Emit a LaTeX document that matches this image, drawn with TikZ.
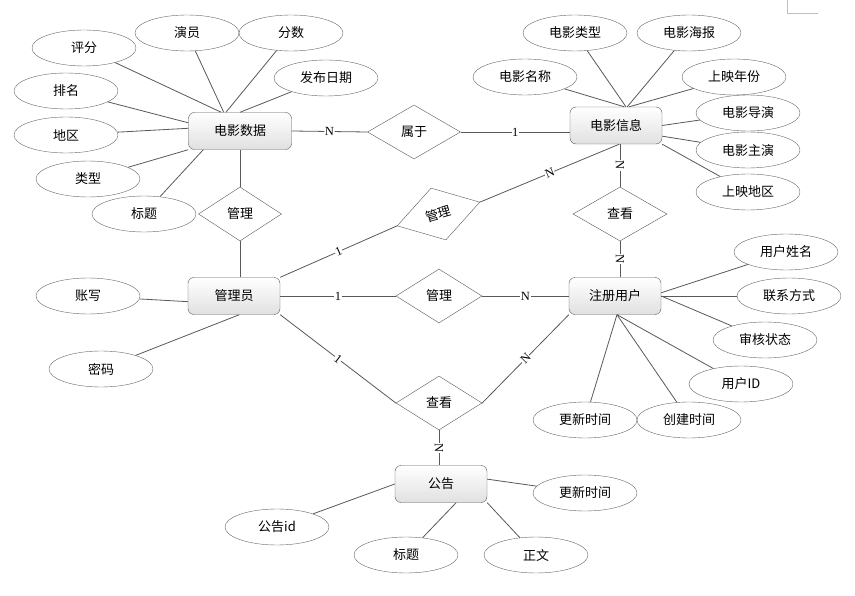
\documentclass[tikz,border=0pt]{standalone}
\usepackage{fontspec}
\setmainfont{Liberation Serif}
\newfontfamily\cjk{Noto Sans CJK SC}
\usetikzlibrary{shapes.geometric}

\begin{document}
\begin{tikzpicture}[
  x=1pt, y=-1pt,
  every node/.style={font=\cjk\fontsize{13}{15}\selectfont},
  ent/.style={draw=black!65, rectangle, rounded corners=6pt, minimum width=92pt, minimum height=37pt, top color=white, bottom color=black!12, inner sep=0pt},
  attr/.style={draw=black!60, ellipse, minimum width=104pt, minimum height=36pt, inner sep=0pt, fill=white},
  rel/.style={draw=black!65, diamond, minimum width=86pt, minimum height=54pt, inner sep=0pt, fill=white},
  link/.style={draw=black!65, line width=0.8pt},
  card/.style={fill=white, inner sep=0.5pt, sloped, font=\rmfamily\fontsize{12.5}{12.5}\selectfont},
]
\fill[white] (0,0) rectangle (855,596);
\useasboundingbox (0,0) rectangle (855,596);
\draw[black!25] (787,0) -- (787,13) -- (818,13);

% entities
\node[ent, minimum width=103pt] (dd) at (240,131) {电影数据};
\node[ent] (xx) at (616,125.5) {电影信息};
\node[ent] (ad) at (234,296) {管理员};
\node[ent] (zc) at (615,296) {注册用户};
\node[ent] (gg) at (441,484) {公告};

% relations
\node[rel, minimum width=93pt] (sy) at (414,132) {属于};
\node[rel, minimum width=83pt] (gl1) at (240,214) {管理};
\node[rel, rotate=16] (gl2) at (438.5,214) {管理};
\node[rel, minimum width=94pt] (ck1) at (620,214) {查看};
\node[rel] (gl3) at (439,296) {管理};
\node[rel] (ck2) at (439,403) {查看};

% attributes of 电影数据
\node[attr] (pf) at (84,48) {评分};
\node[attr] (yy) at (187,33) {演员};
\node[attr] (fs) at (291,33) {分数};
\node[attr] (fb) at (326,78) {发布日期};
\node[attr] (pm) at (66,91) {排名};
\node[attr] (dq) at (66,135) {地区};
\node[attr] (lx) at (88,179) {类型};
\node[attr] (bt) at (144,214) {标题};

% attributes of 电影信息
\node[attr] (mlx) at (575,33) {电影类型};
\node[attr] (mhb) at (689,33) {电影海报};
\node[attr] (mmc) at (525,77) {电影名称};
\node[attr] (snf) at (734,77) {上映年份};
\node[attr] (mdy) at (748,113) {电影导演};
\node[attr] (mzy) at (748,150) {电影主演};
\node[attr] (sdq) at (748,192) {上映地区};

% attributes of 管理员
\node[attr] (zh) at (88,296) {账写};
\node[attr] (mm) at (101,369) {密码};

% attributes of 注册用户
\node[attr] (xm) at (786,252) {用户姓名};
\node[attr] (lxfs) at (789,296) {联系方式};
\node[attr] (shzt) at (765,340) {审核状态};
\node[attr] (yid) at (741,384) {用户ID};
\node[attr] (gxsj) at (585,420) {更新时间};
\node[attr] (cjsj) at (689,420) {创建时间};

% attributes of 公告
\node[attr] (gxsj2) at (585,493) {更新时间};
\node[attr] (ggid) at (277,527) {公告id};
\node[attr] (bt2) at (406,555) {标题};
\node[attr] (zw) at (536,555) {正文};

% attribute links
\draw[link] (pf) -- (dd.135);
\draw[link] (yy) -- (dd.131);
\draw[link] (fs) -- (dd.127);
\draw[link] (fb) -- (dd.north);
\draw[link] (pm) -- (dd.171);
\draw[link] (dq) -- (dd.177);
\draw[link] (lx) -- (dd.south west);
\draw[link] (bt) -- (dd.207);

\draw[link] (mmc) -- (xx.66);
\draw[link] (mlx) -- (xx.62);
\draw[link] (mhb) -- (xx.59);
\draw[link] (snf) -- (xx.55);
\draw[link] (mdy) -- (xx.east);
\draw[link] (mzy) -- (xx.-13);
\draw[link] (sdq) -- (xx.south east);

\draw[link] (zh) -- (ad.187);
\draw[link] (mm) -- (ad.-74);

\draw[link] (xm) -- (zc.4);
\draw[link] (lxfs) -- (zc.east);
\draw[link] (shzt) -- (zc.east);
\draw[link] (yid) -- (zc.-84);
\draw[link] (gxsj) -- (zc.-84);
\draw[link] (cjsj) -- (zc.-84);

\draw[link] (gxsj2) -- (gg.6);
\draw[link] (ggid) -- (gg.west);
\draw[link] (bt2) -- (gg.-51);
\draw[link] (zw) -- (gg.south east);

% relation links
\draw[link] (dd.east) -- node[card] {N} (sy.west);
\draw[link] (sy.east) -- node[card] {1} (sy.east -| xx.west);
\draw[link] (gl1.north) -- (gl1.north |- dd.south);
\draw[link] (gl1.south) -- (gl1.south |- ad.north);
\draw[link] (ad.north east) -- node[card] {1} (gl2.west);
\draw[link] (gl2.east) -- node[card] {N} (xx.-80);
\draw[link] (ck1.north |- xx.south) -- node[card] {N} (ck1.north);
\draw[link] (ck1.south) -- node[card] {N} (ck1.south |- zc.north);
\draw[link] (ad.east) -- node[card] {1} (gl3.west);
\draw[link] (gl3.east) -- node[card] {N} (zc.west);
\draw[link] (ad.south east) -- node[card] {1} (ck2.west);
\draw[link] (ck2.east) -- node[card] {N} (zc.south west);
\draw[link] (ck2.south) -- node[card] {N} (ck2.south |- gg.north);
\end{tikzpicture}
\end{document}
